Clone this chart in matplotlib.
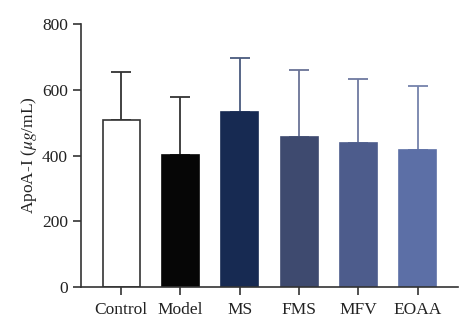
import numpy as np
import matplotlib.pyplot as plt

plt.rcParams['font.family'] = ['Liberation Serif', 'DejaVu Serif']
plt.rcParams['mathtext.fontset'] = 'stix'

groups = ["Control", "Model", "MS", "FMS", "MFV", "EOAA"]
means = [508, 403, 532, 455, 438, 417]
upper = [655, 577, 696, 661, 634, 610]
sd = np.array(upper) - np.array(means)
colors = ["white", "#060606", "#172a52", "#3e4a6f", "#4d5c8c", "#5c6fa6"]
edges = ["#333333", "#060606", "#172a52", "#3e4a6f", "#4d5c8c", "#5c6fa6"]
err_colors = ["#333333", "#333333", "#4a5a7e", "#6a7396", "#6e7aa0", "#7582ab"]

fig = plt.figure(figsize=(4.74, 3.33), dpi=100)
ax = fig.add_axes([0.171, 0.138, 0.795, 0.79])

x = np.arange(len(groups))
ax.bar(x, means, width=0.62, color=colors, edgecolor=edges, linewidth=1.2, zorder=2)
for i in range(len(groups)):
    ax.errorbar(x[i], means[i], yerr=[[0], [sd[i]]], fmt='none', ecolor=err_colors[i],
                elinewidth=1.3, capsize=7, capthick=1.3, zorder=1)

ax.set_xlim(-0.675, 5.675)
ax.set_ylim(0, 800)
ax.set_yticks([0, 200, 400, 600, 800])
ax.set_xticks(x)
ax.set_xticklabels(groups)
ax.spines['top'].set_visible(False)
ax.spines['right'].set_visible(False)
for s in ['left', 'bottom']:
    ax.spines[s].set_linewidth(1.2)
    ax.spines[s].set_color('#333333')
ax.tick_params(axis='both', direction='out', length=6, width=1.2, color='#333333',
               labelsize=12.5, labelcolor='#222222')
ax.tick_params(axis='x', pad=5)
ax.set_ylabel(r"ApoA-I ($\mu g$/mL)", fontsize=12.5, color='#222222', labelpad=2)

fig.savefig("out.png", dpi=100)
